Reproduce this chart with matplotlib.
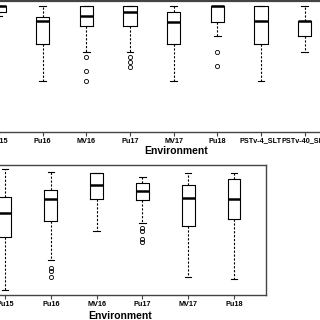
import matplotlib
matplotlib.use('Agg')
import matplotlib.pyplot as plt

plt.rcParams['font.family'] = ['Liberation Sans', 'DejaVu Sans']

# top panel
top_env = ['Pu15', 'Pu16', 'MV16', 'Pu17', 'MV17', 'Pu18', 'PSTv-4_SLT', 'PSTv-40_SLT']
top_whislo = [88.5, 38.9, 61.1, 61.1, 38.9, 73.3, 38.9, 61.1]
top_q1 = [91.6, 67.2, 80.9, 80.9, 67.2, 84.0, 67.2, 73.3]
top_med = [96.2, 84.7, 88.5, 91.6, 84.0, 96.2, 84.7, 84.7]
top_q3 = [96.2, 87.8, 96.2, 96.2, 91.6, 96.2, 96.2, 84.7]
top_whishi = [96.2, 96.2, 96.2, 96.2, 96.2, 96.2, 96.2, 96.2]
top_fliers = [[], [], [57.3, 46.6, 38.9], [57.3, 53.4, 49.6], [], [61.1, 50.4], [], []]

# bottom panel
bot_env = ['Pu15', 'Pu16', 'MV16', 'Pu17', 'MV17', 'Pu18']
bot_whislo = [3.8, 26.9, 49.2, 55.4, 13.8, 12.3]
bot_q1 = [44.6, 56.9, 73.8, 73.1, 53.1, 58.5]
bot_med = [63.1, 73.8, 84.6, 80.0, 74.6, 73.8]
bot_q3 = [75.4, 80.8, 93.8, 86.2, 84.6, 89.2]
bot_whishi = [96.9, 94.6, 93.8, 90.8, 93.8, 93.8]
bot_fliers = [[], [20.8, 18.5, 13.8], [], [51.5, 49.2, 43.1, 40.8], [], []]


def make_stats(labels, lo, q1, med, q3, hi, fl):
    return [dict(label=l, whislo=a, q1=b, med=c, q3=d, whishi=e, fliers=f)
            for l, a, b, c, d, e, f in zip(labels, lo, q1, med, q3, hi, fl)]


def draw(ax, stats, width):
    ax.bxp(stats, positions=range(len(stats)), widths=width, showfliers=True,
           boxprops=dict(color='black', linewidth=0.8),
           medianprops=dict(color='black', linewidth=1.8),
           whiskerprops=dict(color='black', linewidth=0.8, linestyle=(0, (2, 1.5))),
           capprops=dict(color='black', linewidth=0.8),
           flierprops=dict(marker='o', markerfacecolor='none', markeredgecolor='black',
                           markersize=3, markeredgewidth=0.6))
    ax.set_ylim(0, 100)
    ax.set_yticks([])
    ax.tick_params(axis='x', length=3, width=0.8, pad=1, labelsize=5.2, color='#444444')
    for lab in ax.get_xticklabels():
        lab.set_fontweight('bold')
    for s in ax.spines.values():
        s.set_color('#444444')
        s.set_linewidth(1.0)


fig = plt.figure(figsize=(3.2, 3.2), dpi=100)
fig.patch.set_facecolor('white')

ax1 = fig.add_axes([-0.085, 0.5875, 1.119, 0.41])
draw(ax1, make_stats(top_env, top_whislo, top_q1, top_med, top_q3, top_whishi, top_fliers), 0.3)
ax1.set_xlim(-0.6, 7.6)
ax1.spines['top'].set_linewidth(1.6)
ax1.text(0.568, -0.148, 'Environment', transform=ax1.transAxes, ha='center', va='center',
         fontsize=7.5, fontweight='bold')

ax2 = fig.add_axes([-0.0844, 0.078, 0.916, 0.406])
draw(ax2, make_stats(bot_env, bot_whislo, bot_q1, bot_med, bot_q3, bot_whishi, bot_fliers), 0.28)
ax2.set_xlim(-0.7, 5.7)
ax2.text(0.502, -0.16, 'Environment', transform=ax2.transAxes, ha='center', va='center',
         fontsize=7.5, fontweight='bold')

fig.savefig('out.png', dpi=100, facecolor='white')
